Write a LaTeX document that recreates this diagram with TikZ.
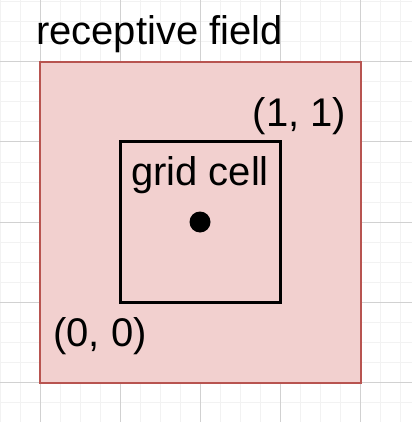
\documentclass[tikz,border=0pt]{standalone}
\usepackage{fontspec}
\setmainfont{Liberation Sans}
\begin{document}
\begin{tikzpicture}[x=1pt,y=-1pt]
\definecolor{minorColor}{gray}{0.95}
\definecolor{majorColor}{gray}{0.82}
\definecolor{fieldFill}{RGB}{242,208,207}
\definecolor{fieldDraw}{RGB}{184,84,80}
\tikzset{label text/.style={inner sep=0pt, outer sep=0pt, font=\fontsize{40}{48}\selectfont}}
\path[use as bounding box,fill=white] (0,0) rectangle (412,422);
% background grid
\foreach \x in {0,20,...,400}
  \path[draw=minorColor,line width=1pt] (\x,0) -- (\x,422);
\foreach \y in {2,22,...,422}
  \path[draw=minorColor,line width=1pt] (0,\y) -- (412,\y);
\foreach \x in {40,120,...,360}
  \path[draw=majorColor,line width=1pt] (\x,0) -- (\x,422);
\foreach \y in {62,142,...,382}
  \path[draw=majorColor,line width=1pt] (0,\y) -- (412,\y);

\node[draw=fieldDraw,fill=fieldFill,line width=2pt,inner sep=0pt,
  minimum width=321,minimum height=321] (field) at (200.5,222.5) {};

\node[draw=black,line width=3pt,inner sep=0pt,minimum size=160] (cell) at (200,222) {};

\node[circle,fill=black,inner sep=0pt,minimum size=21] (center) at (cell.center) {};

\node[label text,anchor=base west] (fieldname) at (36,45) {receptive field};

\node[label text,anchor=base] (cellname) at (200,185) {grid cell};

\node[label text,anchor=base] (upper) at (299.5,127) {(1, 1)};

\node[label text,anchor=base] (lower) at (100,346) {(0, 0)};
\end{tikzpicture}
\end{document}
